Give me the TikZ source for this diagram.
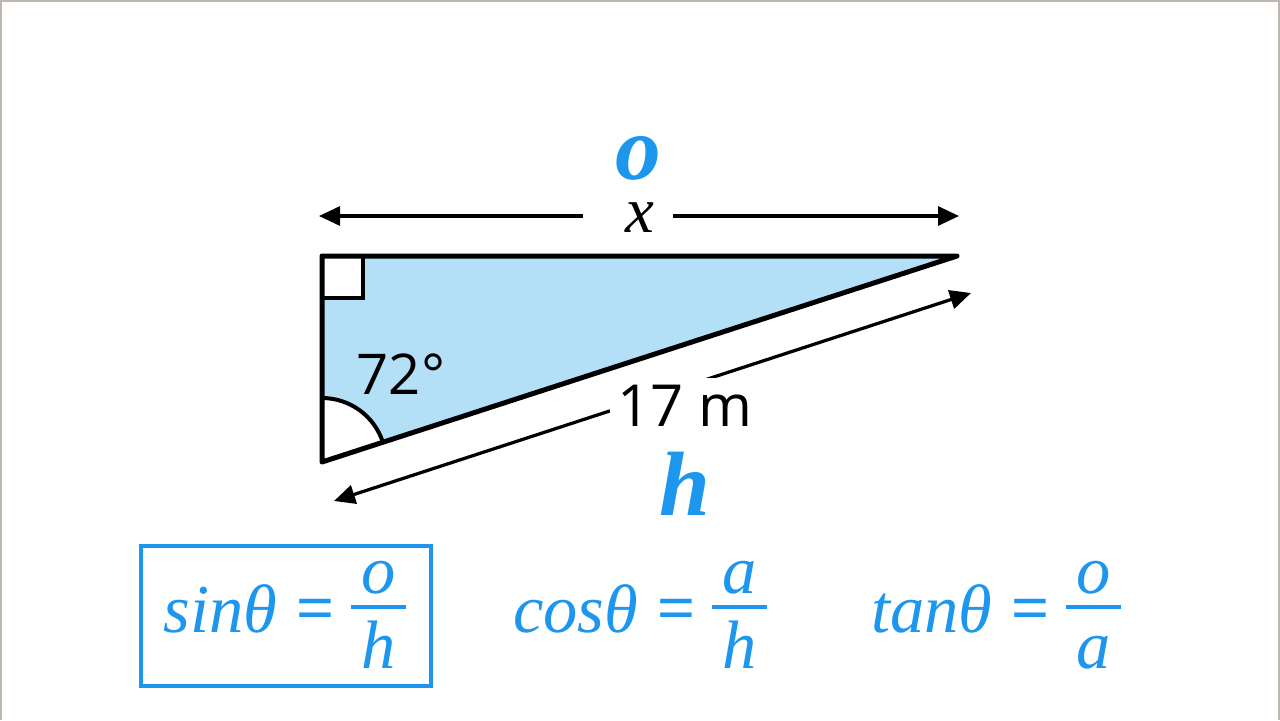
\documentclass[tikz,border=0pt]{standalone}
\usepackage{fontspec}
\setmainfont{Liberation Serif}
\newfontfamily\labelfont{Open Sans}
\usepackage{xcolor}
\usepackage{tikz}
\usetikzlibrary{arrows.meta,calc}
\definecolor{trigblue}{RGB}{29,150,238}
\definecolor{trifill}{RGB}{179,223,247}
\definecolor{framegrey}{RGB}{190,184,174}
\newcommand{\trigfrac}[2]{\raisebox{-0.72cm}{\vbox{\hbox to 1.1cm{\hss\itshape #1\hss}\kern0.22cm\hrule height0.08cm\kern0.22cm\hbox to 1.1cm{\hss\itshape #2\vphantom{h}\hss}}}}

\begin{document}
\begin{tikzpicture}[x=0.02cm, y=-0.02cm,
    side/.style={draw=black, line width=0.1cm, line join=round},
    dimarrow/.style={line width=0.065cm, {Triangle[length=0.42cm,width=0.38cm]}-{Triangle[length=0.42cm,width=0.38cm]}},
    measure/.style={fill=white, font=\labelfont\fontsize{33}{36}\selectfont, inner sep=0.14cm},
    varname/.style={text=trigblue, font=\fontsize{52}{56}\selectfont\bfseries\itshape, inner sep=0pt},
    formula/.style={text=trigblue, font=\fontsize{39}{42}\selectfont, inner sep=0pt, anchor=base},
    chosen/.style={draw=trigblue, line width=0.08cm, minimum width=5.8cm, minimum height=2.8cm}
]
    \useasboundingbox (0,0) rectangle (1280,720);
    \draw[framegrey, line width=0.05cm] (1,720) -- (1,1) -- (1279,1) -- (1279,720);

    % triangle
    \coordinate (A) at (322,256);
    \coordinate (B) at (322,462);
    \coordinate (C) at (957,256);
    \fill[trifill] (A) -- (C) -- (B) -- cycle;
    \fill[white] (B) -- ++(90:1.28cm) arc[start angle=90, end angle=18, radius=1.28cm] -- cycle;
    \draw[line width=0.08cm, fill=white] (A) rectangle ($(A)+(41,42)$);
    \draw[line width=0.08cm] (B) ++(90:1.28cm) arc[start angle=90, end angle=18, radius=1.28cm];
    \draw[side] (A) -- (C) -- (B) -- cycle;

    % measurements
    \coordinate (ts) at (319,216);
    \coordinate (te) at (959,216);
    \coordinate (hs) at (334,501);
    \coordinate (he) at (971,293);
    \draw[dimarrow] (ts) -- (te);
    \draw[dimarrow] (hs) -- (he);
    \node[fill=white, inner xsep=0.38cm, inner ysep=0.02cm, font=\fontsize{37}{40}\selectfont\itshape] (xlab) at (628,218) {\hspace{0.48cm}x};
    \node[measure] (len) at (685,406) {17 m};
    \node[font=\labelfont\fontsize{32}{36}\selectfont] (ang) at (401,374) {72°};
    \node[varname] (opp) at (638,158) {o};
    \node[varname] (hyp) at (685,484) {h};

    % ratios
    \node[chosen] (sinebox) at (286,616) {};
    \node[formula] (sine) at (285,632) {\itshape sinθ {\labelfont =} \trigfrac{o}{h}};
    \node[formula] (cosine) at (640,632) {\itshape cosθ {\labelfont =} \trigfrac{a}{h}};
    \node[formula] (tangent) at (996,632) {\itshape tanθ {\labelfont =} \trigfrac{o}{a}};
\end{tikzpicture}
\end{document}
